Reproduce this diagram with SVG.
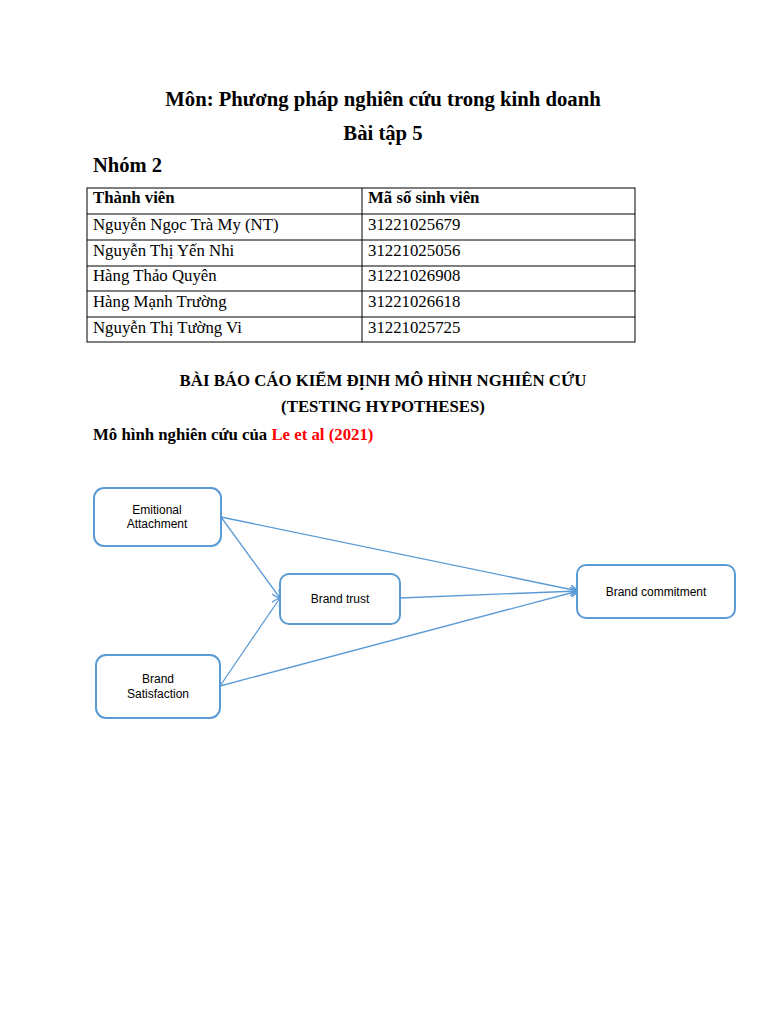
<svg xmlns="http://www.w3.org/2000/svg" width="768" height="1024" viewBox="0 0 768 1024">
<style>
.t{font-family:"Liberation Serif","Times New Roman",serif;fill:#000}
.b{font-weight:bold}
.c{font-family:"Liberation Sans",Arial,sans-serif;font-size:12px;fill:#000;text-anchor:middle}
.box{fill:#fff;stroke:#5b9bd5;stroke-width:2}
.e{stroke:#5b9bd5;stroke-width:1.3;fill:none;marker-end:url(#a)}
.g{stroke:#000;stroke-width:1;fill:none}
</style>
<defs>
<marker id="a" viewBox="0 0 10 10" refX="9" refY="5" markerWidth="9" markerHeight="9" markerUnits="userSpaceOnUse" orient="auto">
<path d="M0,0 L10,5 L0,10" fill="none" stroke="#5b9bd5" stroke-width="1.5"/>
</marker>
</defs>
<rect width="768" height="1024" fill="#fff"/>
<text class="t b" x="383" y="106" font-size="20.7" text-anchor="middle">Môn: Phương pháp nghiên cứu trong kinh doanh</text>
<text class="t b" x="383" y="140" font-size="20.7" text-anchor="middle">Bài tập 5</text>
<text class="t b" x="93" y="172" font-size="20.5">Nhóm 2</text>
<g id="table">
<rect class="g" x="87" y="188" width="548" height="154"/>
<line class="g" x1="362" y1="188" x2="362" y2="342"/>
<line class="g" x1="87" y1="214" x2="635" y2="214"/>
<line class="g" x1="87" y1="240" x2="635" y2="240"/>
<line class="g" x1="87" y1="266" x2="635" y2="266"/>
<line class="g" x1="87" y1="291" x2="635" y2="291"/>
<line class="g" x1="87" y1="317" x2="635" y2="317"/>
<g class="t" font-size="16.8">
<text class="b" x="93" y="203">Thành viên</text>
<text class="b" x="368" y="203">Mã số sinh viên</text>
<text x="93" y="230">Nguyễn Ngọc Trà My (NT)</text>
<text x="368" y="230">31221025679</text>
<text x="93" y="256">Nguyễn Thị Yến Nhi</text>
<text x="368" y="256">31221025056</text>
<text x="93" y="281">Hàng Thảo Quyên</text>
<text x="368" y="281">31221026908</text>
<text x="93" y="307">Hàng Mạnh Trường</text>
<text x="368" y="307">31221026618</text>
<text x="93" y="333">Nguyễn Thị Tường Vi</text>
<text x="368" y="333">31221025725</text>
</g>
</g>
<text class="t b" x="383" y="386" font-size="16.8" text-anchor="middle">BÀI BÁO CÁO KIỂM ĐỊNH MÔ HÌNH NGHIÊN CỨU</text>
<text class="t b" x="383" y="412" font-size="16.8" text-anchor="middle">(TESTING HYPOTHESES)</text>
<text class="t b" x="93" y="440" font-size="16.8">Mô hình nghiên cứu của <tspan fill="#f00">Le et al (2021)</tspan></text>
<g id="connectors">
<line class="e" x1="221" y1="517" x2="578" y2="591"/>
<line class="e" x1="221" y1="517" x2="280" y2="598"/>
<line class="e" x1="220" y1="686" x2="280" y2="598"/>
<line class="e" x1="220" y1="686" x2="578" y2="591"/>
<line class="e" x1="400" y1="598" x2="578" y2="591"/>
</g>
<g id="n-emotional">
<rect class="box" x="94" y="488" width="127" height="58" rx="10"/>
<text class="c" x="157" y="514">Emitional</text>
<text class="c" x="157" y="528">Attachment</text>
</g>
<g id="n-trust">
<rect class="box" x="280" y="574" width="120" height="50" rx="9"/>
<text class="c" x="340" y="603">Brand trust</text>
</g>
<g id="n-commitment">
<rect class="box" x="577" y="565" width="158" height="53" rx="9"/>
<text class="c" x="656" y="596">Brand commitment</text>
</g>
<g id="n-satisfaction">
<rect class="box" x="96" y="655" width="124" height="63" rx="10"/>
<text class="c" x="158" y="683">Brand</text>
<text class="c" x="158" y="698">Satisfaction</text>
</g>
</svg>
